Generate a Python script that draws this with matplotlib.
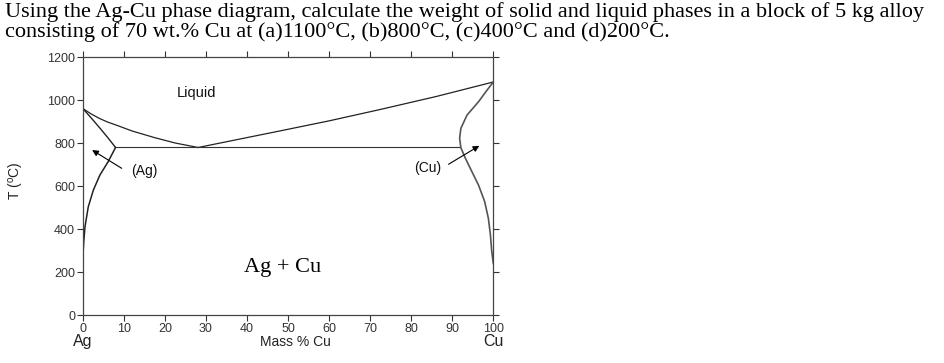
import numpy as np
import matplotlib
matplotlib.use("Agg")
import matplotlib.pyplot as plt

plt.rcParams["font.family"] = ["Liberation Sans", "DejaVu Sans"]

# --- data (mass % Cu, temperature in C) ---
liq_ag_x = [0, 2.0, 4.0, 6.0, 8.5, 12.0, 17.5, 22.5, 28.1]
liq_ag_t = [962, 937, 916, 899, 882, 857, 826, 801, 780]
sol_ag_x = [0, 2.1, 4.2, 6.2, 8.0]
sol_ag_t = [962, 917, 870, 824, 780]
solv_ag_x = [8.0, 6.2, 4.2, 2.6, 1.36, 0.56, 0.25, 0.08, 0]
solv_ag_t = [780, 714, 652, 582, 504, 411, 340, 280, 230]
liq_cu_x = [28.1, 48.0, 60.0, 72.0, 86.0, 100]
liq_cu_t = [780, 857, 904, 955, 1017, 1085]
cu_x = [100, 98.2, 96.4, 93.6, 92.1, 91.8, 92.1, 93.2, 94.8, 96.4, 97.9, 98.8, 99.3, 99.6, 100]
cu_t = [1085, 1040, 993, 931, 869, 823, 779, 730, 667, 605, 528, 450, 373, 300, 240]
eut_x = [8.0, 91.8]
eut_t = [780, 780]

xticks = list(range(0, 101, 10))
yticks = list(range(0, 1201, 200))

title1 = "Using the Ag-Cu phase diagram, calculate the weight of solid and liquid phases in a block of 5 kg alloy"
title2 = "consisting of 70 wt.% Cu at (a)1100\u00b0C, (b)800\u00b0C, (c)400\u00b0C and (d)200\u00b0C."

W, H = 945, 363
fig = plt.figure(figsize=(W / 100, H / 100), dpi=100)
ax = fig.add_axes([82.7 / W, (H - 315) / H, 410.6 / W, 257.7 / H])

ax.plot(liq_ag_x, liq_ag_t, color="#222222", lw=0.9)
ax.plot(sol_ag_x, sol_ag_t, color="#222222", lw=1.0)
ax.plot(solv_ag_x, solv_ag_t, color="#222222", lw=1.1)
ax.plot(liq_cu_x, liq_cu_t, color="#222222", lw=0.9)
ax.plot(eut_x, eut_t, color="#333333", lw=0.8)
ax.plot(cu_x, cu_t, color="#555555", lw=1.2)

ax.set_xlim(0, 100)
ax.set_ylim(0, 1200)
ax.set_xticks(xticks)
ax.set_yticks(yticks)
ax.tick_params(direction="out", length=4, width=0.8, colors="#333333",
               labelsize=9, top=True, right=True, labeltop=False,
               labelright=False, pad=1.5)
for s in ax.spines.values():
    s.set_color("#444444")
    s.set_linewidth(0.9)

# labels inside the diagram
ax.text(27.6, 1034, "Liquid", fontsize=10.5, ha="center", va="center", color="#111111")
ax.text(14.9, 671, "(Ag)", fontsize=10, ha="center", va="center", color="#111111")
ax.text(84.0, 683, "(Cu)", fontsize=10, ha="center", va="center", color="#111111")
ax.text(48.7, 219, "Ag + Cu", fontsize=16, ha="center", va="center",
        family="Liberation Serif", color="black")
arrow = dict(arrowstyle="-|>", color="black", lw=0.8, mutation_scale=9,
             shrinkA=0, shrinkB=0)
ax.annotate("", xy=(2.3, 768), xytext=(9.5, 683), arrowprops=arrow)
ax.annotate("", xy=(96.6, 788), xytext=(89.1, 702), arrowprops=arrow)

# axis captions
tr = ax.get_xaxis_transform()
ax.text(0, -0.101, "Ag", transform=tr, fontsize=11.5, ha="center", va="center", color="#222222")
ax.text(100, -0.101, "Cu", transform=tr, fontsize=11.5, ha="center", va="center", color="#222222")
ax.text(51.9, -0.105, "Mass % Cu", transform=tr, fontsize=10, ha="center", va="center", color="#222222")
fig.text(17 / W, 1 - 181 / H, "T ($^\\mathregular{o}$C)", rotation=90, fontsize=10,
         ha="center", va="center", color="#222222")

# question text
fig.text(5 / W, 1 - 17.5 / H, title1, family="Liberation Serif", fontsize=16, va="baseline")
fig.text(5 / W, 1 - 37 / H, title2, family="Liberation Serif", fontsize=16, va="baseline")

fig.savefig("out.png", dpi=100)
